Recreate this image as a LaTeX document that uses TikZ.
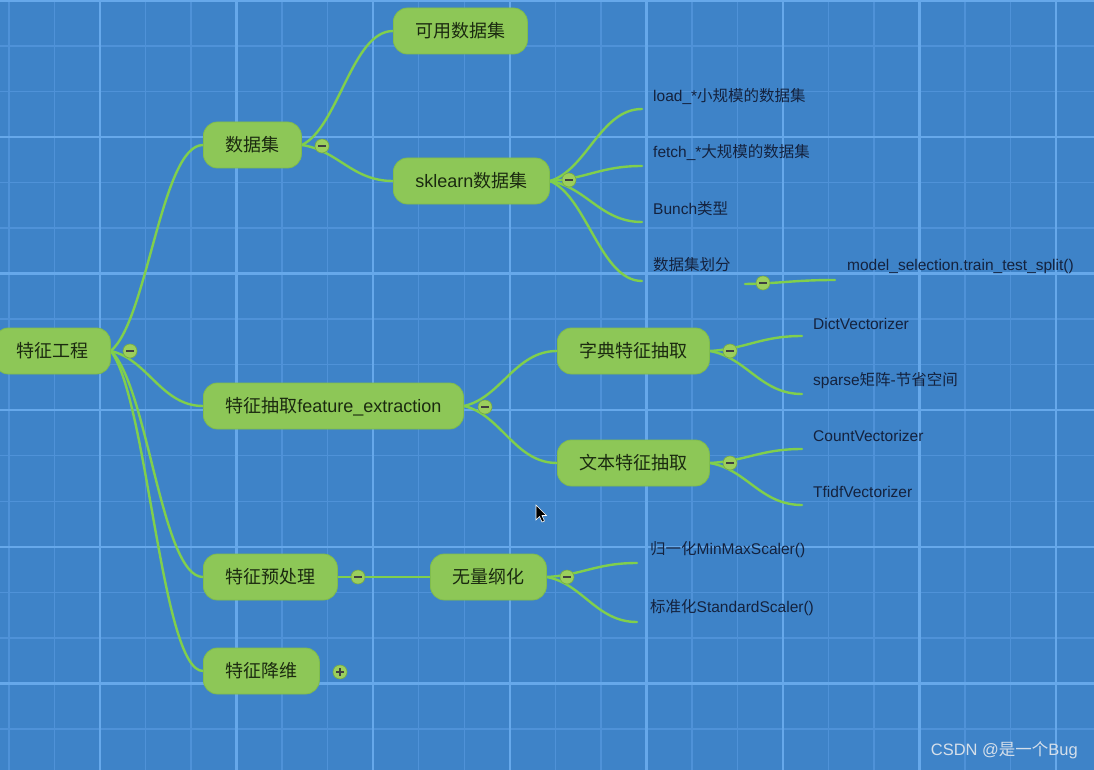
\documentclass[tikz,border=0pt]{standalone}
\usepackage{fontspec}
\setmainfont{Liberation Sans}
\newfontfamily\cjk{Noto Sans CJK SC}
\usetikzlibrary{calc}
\pgfdeclarelayer{back}
\pgfdeclarelayer{links}
\pgfsetlayers{back,links,main}
\definecolor{bg}{HTML}{3E83C8}
\definecolor{gridminor}{HTML}{4F92D8}
\definecolor{gridmajor}{HTML}{66A8EA}
\definecolor{nodefill}{HTML}{8DC757}
\definecolor{nodeedge}{HTML}{80BC4C}
\definecolor{linkc}{HTML}{80CF4C}
\definecolor{nodetext}{HTML}{1B2A10}
\definecolor{leaftext}{HTML}{14223E}
\definecolor{btnfill}{HTML}{9CCF5C}
\definecolor{btnedge}{HTML}{78AC44}
\definecolor{wm}{HTML}{D5DFEA}
\tikzset{
  mnode/.style={rounded corners=14pt, fill=nodefill, draw=nodeedge, line width=0.8pt,
    inner xsep=22pt, inner ysep=0pt, minimum height=46pt,
    font=\fontsize{18}{18}\selectfont, text=nodetext, text height=15pt, text depth=2pt, anchor=west},
  leaf/.style={inner sep=0pt, font=\fontsize{15.5}{15.5}\selectfont, text=leaftext,
    text height=13pt, text depth=2pt, anchor=west},
  conn/.style={draw=linkc, line width=2.4pt, line cap=round},
  btn/.style={circle, fill=btnfill, draw=btnedge, line width=0.6pt, minimum size=14pt, inner sep=0pt},
  btnsign/.style={draw=black!75, line width=1.6pt},
  gminor/.style={draw=gridminor, line width=1.3pt},
  gmajor/.style={draw=gridmajor, line width=2.4pt},
}
\newcommand\xlink[2]{\draw[conn] let \p1=(#1), \p2=(#2) in (\p1) .. controls ($(\p1)+({0.4*(\x2-\x1)},{0.15*(\y2-\y1)})$) and ($(\p2)+({-0.45*(\x2-\x1)},0pt)$) .. (\p2);}
\newcommand\minusbtn[2]{\node[btn] (#1) at #2 {};\draw[btnsign] ([xshift=-4pt]#1.center) -- ([xshift=4pt]#1.center);}
\begin{document}
\begin{tikzpicture}[x=1pt,y=-1pt]
\useasboundingbox (0,0) rectangle (1094,770);
\clip (0,0) rectangle (1094,770);
\begin{pgfonlayer}{back}
\fill[bg] (0,0) rectangle (1094,770);
\foreach \k in {-3,...,21} { \draw[gminor] ({100+45.533*\k},0) -- ({100+45.533*\k},770); }
\foreach \k in {-3,...,14} { \draw[gminor] (0,{137+45.533*\k}) -- (1094,{137+45.533*\k}); }
\foreach \k in {-1,...,7} { \draw[gmajor] ({100+136.6*\k},0) -- ({100+136.6*\k},770); }
\foreach \k in {-1,...,5} { \draw[gmajor] (0,{137+136.6*\k}) -- (1094,{137+136.6*\k}); }
\end{pgfonlayer}

% main nodes
\node[mnode] (root) at (-6,351) {\cjk 特征工程};
\node[mnode] (ds) at (203,145) {\cjk 数据集};
\node[mnode] (avail) at (393,31) {\cjk 可用数据集};
\node[mnode] (sk) at (393,181) {sklearn{\cjk 数据集}};
\node[mnode] (fe) at (203,406) {{\cjk 特征抽取}feature\_extraction};
\node[mnode] (dict) at (557,351) {\cjk 字典特征抽取};
\node[mnode] (txt) at (557,463) {\cjk 文本特征抽取};
\node[mnode] (pre) at (203,577) {\cjk 特征预处理};
\node[mnode] (nodim) at (430,577) {\cjk 无量纲化};
\node[mnode] (red) at (203,671) {\cjk 特征降维};

% leaves
\node[leaf] (l1) at (653,96) {load\_*{\cjk 小规模的数据集}};
\node[leaf] (l2) at (653,152) {fetch\_*{\cjk 大规模的数据集}};
\node[leaf] (l3) at (653,209) {Bunch{\cjk 类型}};
\node[leaf] (l4) at (653,265) {\cjk 数据集划分};
\node[leaf] (ms) at (847,265) {model\_selection.train\_test\_split()};
\node[leaf] (d1) at (813,324) {DictVectorizer};
\node[leaf] (d2) at (813,380) {sparse{\cjk 矩阵}-{\cjk 节省空间}};
\node[leaf] (t1) at (813,436) {CountVectorizer};
\node[leaf] (t2) at (813,492) {TfidfVectorizer};
\node[leaf] (n1) at (650,549) {{\cjk 归一化}MinMaxScaler()};
\node[leaf] (n2) at (650,607) {{\cjk 标准化}StandardScaler()};

% connector end points
\coordinate (l1e) at (642,109);
\coordinate (l2e) at (642,166);
\coordinate (l3e) at (642,222);
\coordinate (l4e) at (642,281);
\coordinate (splitout) at (745,284);
\coordinate (mse) at (835,280);
\coordinate (d1e) at (802,336);
\coordinate (d2e) at (802,394);
\coordinate (t1e) at (802,449);
\coordinate (t2e) at (802,505);
\coordinate (n1e) at (637,563);
\coordinate (n2e) at (637,622);

% connectors (beneath nodes)
\begin{pgfonlayer}{links}
\xlink{root.east}{ds.west}
\xlink{root.east}{fe.west}
\xlink{root.east}{pre.west}
\xlink{root.east}{red.west}
\xlink{ds.east}{avail.west}
\xlink{ds.east}{sk.west}
\xlink{sk.east}{l1e}
\xlink{sk.east}{l2e}
\xlink{sk.east}{l3e}
\xlink{sk.east}{l4e}
\xlink{splitout}{mse}
\xlink{fe.east}{dict.west}
\xlink{fe.east}{txt.west}
\xlink{dict.east}{d1e}
\xlink{dict.east}{d2e}
\xlink{txt.east}{t1e}
\xlink{txt.east}{t2e}
\xlink{pre.east}{nodim.west}
\xlink{nodim.east}{n1e}
\xlink{nodim.east}{n2e}
\end{pgfonlayer}

% collapse buttons
\minusbtn{broot}{(130,351)}
\minusbtn{bds}{(322,146)}
\minusbtn{bsk}{(569,180)}
\minusbtn{bsplit}{(763,283)}
\minusbtn{bfe}{(485,407)}
\minusbtn{bdict}{(730,351)}
\minusbtn{btxt}{(730,463)}
\minusbtn{bpre}{(358,577)}
\minusbtn{bnodim}{(567,577)}
\node[btn] (bred) at (340,672) {};
\draw[btnsign] ([xshift=-4pt]bred.center) -- ([xshift=4pt]bred.center);
\draw[btnsign] ([yshift=-4pt]bred.center) -- ([yshift=4pt]bred.center);

% mouse cursor
\filldraw[fill=black, draw=white, line width=0.6pt] (536,505) -- (536,520) -- (539.5,516.5) -- (542,522) -- (544.5,521) -- (542,515.5) -- (546.5,515.5) -- cycle;

% watermark
\node[anchor=east, inner sep=0pt, text=wm, font=\fontsize{16.5}{16.5}\selectfont] (wmark) at (1078,750) {CSDN @{\cjk 是一个}Bug};
\end{tikzpicture}
\end{document}
